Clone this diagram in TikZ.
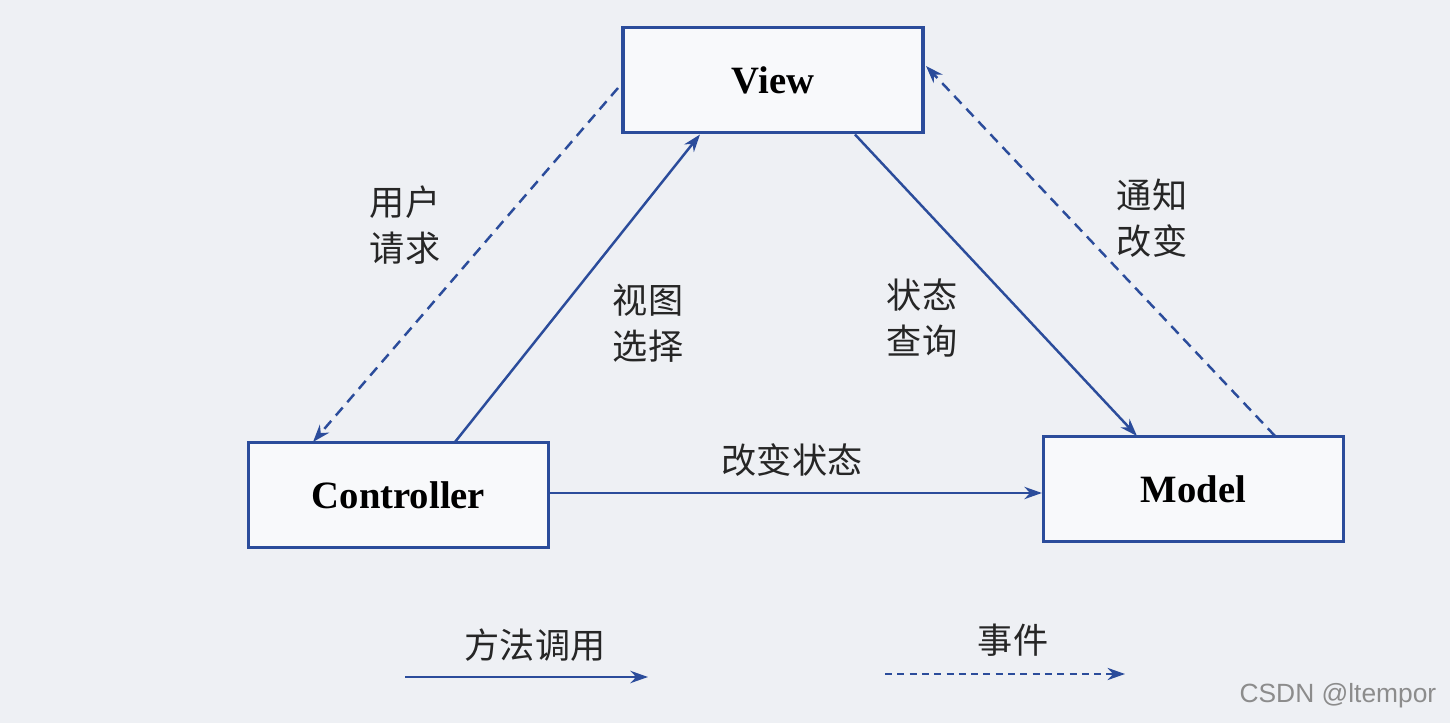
\documentclass[tikz,border=0pt]{standalone}
\usepackage{fontspec}
\setmainfont{Liberation Serif}
\newfontfamily\cjk{Noto Sans CJK SC}
\newfontfamily\wmark{Liberation Sans}
\usetikzlibrary{positioning}
\usetikzlibrary{arrows.meta}
\definecolor{bluel}{HTML}{2B4C9B}
\definecolor{bgc}{HTML}{EEF0F4}
\begin{document}
\begin{tikzpicture}[mybox/.style={draw=bluel,line width=1.8pt,fill=white!60!bgc,minimum width=6cm,minimum height=2.1cm,font=\fontsize{22}{24}\selectfont\bfseries},
  call/.style={draw=bluel,line width=1.4pt,-{Stealth[length=10pt,width=7pt]}},
  event/.style={draw=bluel,line width=1.4pt,dash pattern=on 6pt off 4pt,-{Stealth[length=10pt,width=7pt]}},
  lab/.style={font=\cjk\fontsize{20}{26}\selectfont,align=left,text=black!85}]
\fill[bgc] (0,0) rectangle (29,14.46);
\useasboundingbox (0,0) rectangle (29,14.46);
%boxes
\node[mybox] (view) at (15.46,12.86) {View};
\node[mybox] (ctrl) at (7.97,4.56) {Controller};
\node[mybox] (model) at (23.87,4.68) {Model};
%connectors
\coordinate (c1) at (9.1,5.62);
\coordinate (v1) at (14.0,11.77);
\draw[call] (c1) -- (v1);
\coordinate (v2) at (17.1,11.77);
\coordinate (m1) at (22.74,5.74);
\draw[call] (v2) -- (m1);
\draw[call] (ctrl.east |- 0,4.6) -- (model.west |- 0,4.6);
\coordinate (v3) at (12.36,12.7);
\coordinate (c2) at (6.26,5.62);
\draw[event] (v3) -- (c2);
\coordinate (m2) at (25.5,5.74);
\coordinate (v4) at (18.52,13.14);
\draw[event] (m2) -- (v4);
%labels
\node[lab] (req) at (8.1,9.96) {用户\\请求};
\node[lab] (sel) at (12.96,8.0) {视图\\选择};
\node[lab] (qry) at (18.44,8.1) {状态\\查询};
\node[lab] (ntf) at (23.04,10.1) {通知\\改变};
\node[lab] (chg) at (15.84,5.26) {改变状态};
%legend
\coordinate (l1) at (8.1,0.92);
\coordinate (l2) at (12.96,0.92);
\draw[call] (l1) -- (l2);
\node[lab] (lcall) at (10.7,1.56) {方法调用};
\coordinate (l3) at (17.7,0.98);
\coordinate (l4) at (22.5,0.98);
\draw[event,line width=1pt,dash pattern=on 4pt off 3pt] (l3) -- (l4);
\node[lab] (levt) at (20.26,1.66) {事件};
\node[font=\wmark\fontsize{15}{16}\selectfont,text=black!45,anchor=east] (mark) at (28.85,0.55) {CSDN @ltempor};
\end{tikzpicture}
\end{document}
